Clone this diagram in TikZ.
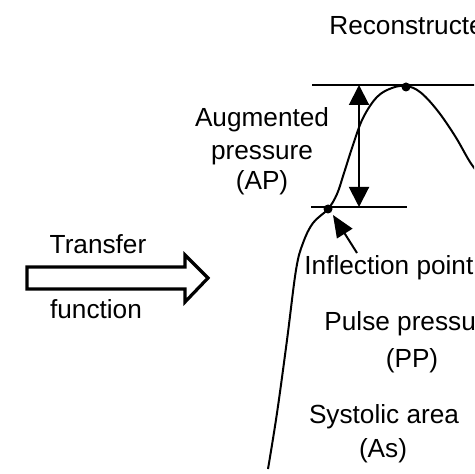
\documentclass[tikz,border=0pt]{standalone}
\usepackage{fontspec}
\setmainfont{Liberation Sans}
\usetikzlibrary{arrows.meta,calc}

\begin{document}
\begin{tikzpicture}[x=0.5pt,y=-0.5pt,
    lbl/.style={inner sep=0pt,font=\fontsize{13.1}{15}\selectfont},
    dot/.style={fill,circle,inner sep=0pt,minimum size=4.5pt}]
    \path[use as bounding box] (0,0) rectangle (474,474);
    \clip (0,0) rectangle (474,474);
    % title
    \node[lbl,anchor=base west] (title) at (329,35) {Reconstructed};
    % transfer function arrow
    \draw[line width=1.6pt,line join=miter] (27,267) -- (185,267) -- (185,255) -- (208,278) -- (185,302) -- (185,289) -- (27,289) -- cycle;
    \node[lbl,anchor=base] (tr) at (98,254) {Transfer};
    \node[lbl,anchor=base] (fn) at (96,318) {function};
    % reference lines
    \coordinate (t1) at (312,85);
    \coordinate (t2) at (480,85);
    \coordinate (b1) at (311,207);
    \coordinate (b2) at (407,207);
    \draw[line width=1pt] (t1) -- (t2);
    \draw[line width=1pt] (b1) -- (b2);
    % waveform
    \draw[line width=1pt] plot[smooth,tension=0.6] coordinates {(268,469) (277,413) (287,340) (296,270) (303,243) (313,223) (328,209) (337,194) (344,173) (353,145) (363,118) (377,97) (392,88) (406,86) (420,92) (437,110) (455,136) (470,162) (482,178)};
    \node[dot] (peak) at (406,87) {};
    \node[dot] (infl) at (328,209) {};
    % augmented pressure
    \coordinate (a1) at (359,85);
    \coordinate (a2) at (359,207);
    \draw[line width=1pt,{Triangle[width=10pt,length=10pt]}-{Triangle[width=10pt,length=10pt]}] (a1) -- (a2);
    \node[lbl,anchor=base] (ap1) at (262,127) {Augmented};
    \node[lbl,anchor=base] (ap2) at (262,160) {pressure};
    \node[lbl,anchor=base] (ap3) at (262,190) {(AP)};
    % inflection point
    \coordinate (ip) at (357,253);
    \draw[line width=1pt,-{Triangle[width=9pt,length=11pt]}] (ip) -- ($(infl)+(5,6)$);
    \node[lbl,anchor=base west] (ipl) at (304,275) {Inflection point};
    \node[lbl,anchor=base west] (pp1) at (324,330) {Pulse pressure};
    \node[lbl,anchor=base] (pp2) at (412,367) {(PP)};
    \node[lbl,anchor=base] (as1) at (384,423) {Systolic area};
    \node[lbl,anchor=base] (as2) at (383,457) {(As)};
\end{tikzpicture}
\end{document}
